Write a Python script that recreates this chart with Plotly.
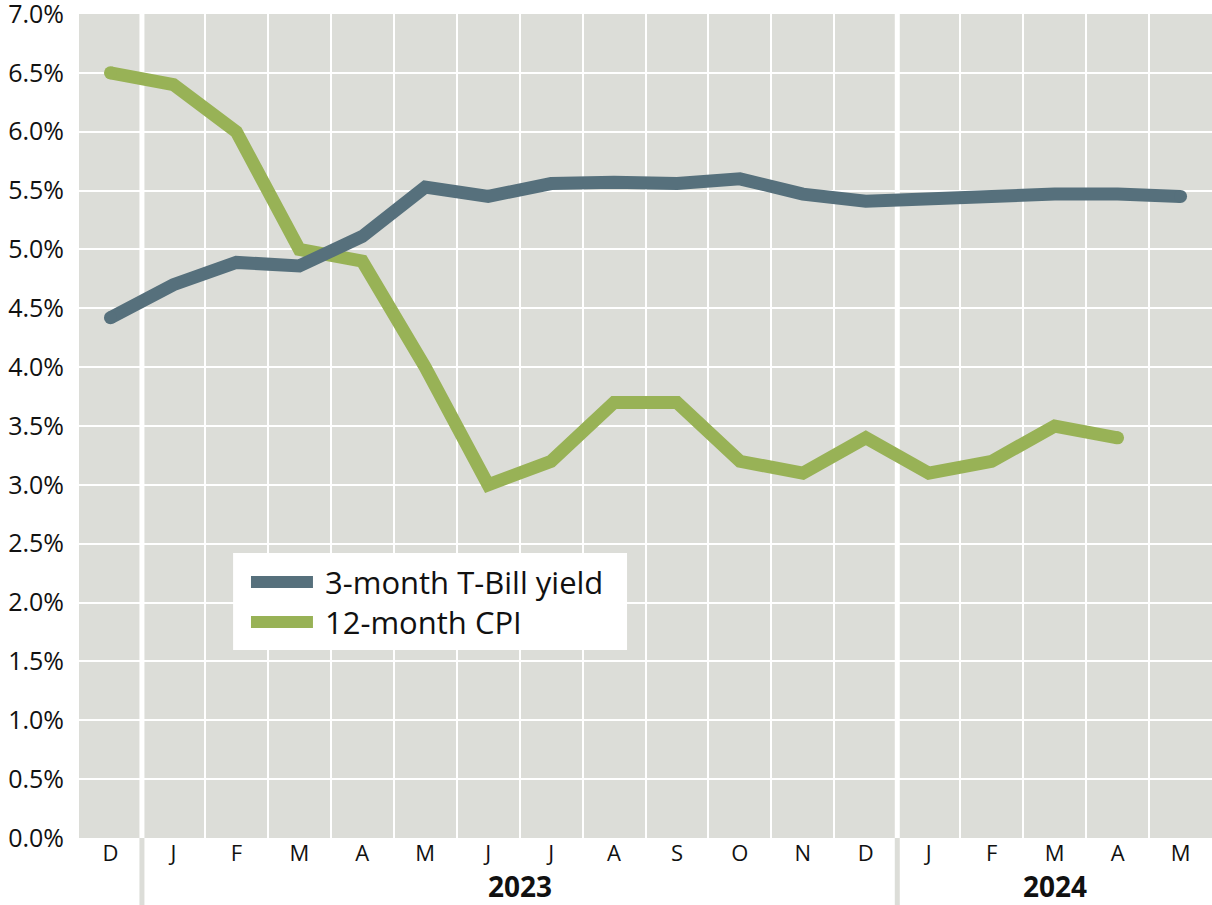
import plotly.graph_objects as go

months = ["2022-12", "2023-01", "2023-02", "2023-03", "2023-04", "2023-05", "2023-06",
          "2023-07", "2023-08", "2023-09", "2023-10", "2023-11", "2023-12",
          "2024-01", "2024-02", "2024-03", "2024-04", "2024-05"]
month_letters = ["D", "J", "F", "M", "A", "M", "J", "J", "A", "S", "O", "N", "D",
                 "J", "F", "M", "A", "M"]
tbill = [4.42, 4.70, 4.89, 4.86, 5.11, 5.53, 5.45, 5.56, 5.57, 5.56, 5.60, 5.47,
         5.41, 5.43, 5.46, 5.47, 5.47, 5.45]
cpi = [6.5, 6.4, 6.0, 5.0, 4.9, 4.0, 3.0, 3.2, 3.7, 3.7, 3.2, 3.1, 3.4, 3.1, 3.2, 3.5, 3.4]
y_ticks = [0.0, 0.5, 1.0, 1.5, 2.0, 2.5, 3.0, 3.5, 4.0, 4.5, 5.0, 5.5, 6.0, 6.5, 7.0]
y_ticklabels = ["0.0%", "0.5%", "1.0%", "1.5%", "2.0%", "2.5%", "3.0%", "3.5%", "4.0%",
                "4.5%", "5.0%", "5.5%", "6.0%", "6.5%", "7.0%"]
years = ["2023", "2024"]
series_names = ["3-month T-Bill yield", "12-month CPI"]

BLUE = "#56707c"
GREEN = "#98b256"
BG = "#dcddd8"
FONT = "Open Sans"
LW = 13

fig = go.Figure()

cpi_x = months[:len(cpi)]
fig.add_trace(go.Scatter(x=cpi_x, y=cpi, mode="lines", name=series_names[1],
                         line=dict(color=GREEN, width=LW), showlegend=False))
fig.add_trace(go.Scatter(x=[cpi_x[0], cpi_x[-1]], y=[cpi[0], cpi[-1]], mode="markers",
                         marker=dict(color=GREEN, size=LW), showlegend=False, hoverinfo="skip"))
fig.add_trace(go.Scatter(x=months, y=tbill, mode="lines", name=series_names[0],
                         line=dict(color=BLUE, width=LW), showlegend=False))
fig.add_trace(go.Scatter(x=[months[0], months[-1]], y=[tbill[0], tbill[-1]], mode="markers",
                         marker=dict(color=BLUE, size=LW), showlegend=False, hoverinfo="skip"))

# year boundaries and year labels
for yr in years:
    idx = next(i for i, m in enumerate(months) if m.startswith(yr))
    b = idx - 0.5
    fig.add_shape(type="line", xref="x", yref="paper", x0=b, x1=b, y0=0, y1=1,
                  line=dict(color="white", width=5), layer="below")
    fig.add_shape(type="line", xref="x", yref="paper", x0=b, x1=b, y0=-0.1, y1=0,
                  line=dict(color=BG, width=5), layer="below")
    last = max(i for i, m in enumerate(months) if m.startswith(yr))
    fig.add_annotation(x=(idx + last) / 2, y=-0.0813, xref="x", yref="paper",
                       text="<b>%s</b>" % yr, showarrow=False, yanchor="bottom",
                       borderpad=0, borderwidth=0,
                       font=dict(family=FONT, size=28, color="#111111"))

# custom legend
fig.add_shape(type="rect", xref="paper", yref="paper", x0=0.136, x1=0.4837,
              y0=0.2282, y1=0.3459, fillcolor="white", line=dict(width=0), layer="above")
for name, col, yy in [(series_names[0], BLUE, 0.3107), (series_names[1], GREEN, 0.2621)]:
    fig.add_shape(type="line", xref="paper", yref="paper", x0=0.1518, x1=0.2065,
                  y0=yy, y1=yy, line=dict(color=col, width=12), layer="above")
    fig.add_annotation(x=0.2154, y=yy, xref="paper", yref="paper", text=name,
                       showarrow=False, xanchor="left", yanchor="middle",
                       font=dict(family=FONT, size=31, color="#111111", weight=500))

fig.update_layout(
    width=1212, height=905,
    margin=dict(l=79, r=0, t=14, b=67),
    plot_bgcolor=BG, paper_bgcolor="white",
    font=dict(family=FONT, color="#111111"),
    showlegend=False,
)
fig.update_xaxes(type="category", categoryorder="array", categoryarray=months,
                 tickvals=months, ticktext=month_letters, tickson="boundaries",
                 showgrid=True, gridcolor="white", gridwidth=2, ticks="",
                 tickfont=dict(size=22, family=FONT, color="#111111"), automargin=False,
                 range=[-0.5, len(months) - 0.5], showline=False, zeroline=False)
fig.update_yaxes(range=[0, 7.0001], tickmode="array", tickvals=y_ticks,
                 ticktext=y_ticklabels, ticklabeloverflow="allow", automargin=False,
                 showgrid=True, gridcolor="white", gridwidth=2, ticks="",
                 tickfont=dict(size=25, family=FONT, color="#111111"),
                 ticklabelstandoff=14, zeroline=False, showline=False)

fig.write_html("out.html")
